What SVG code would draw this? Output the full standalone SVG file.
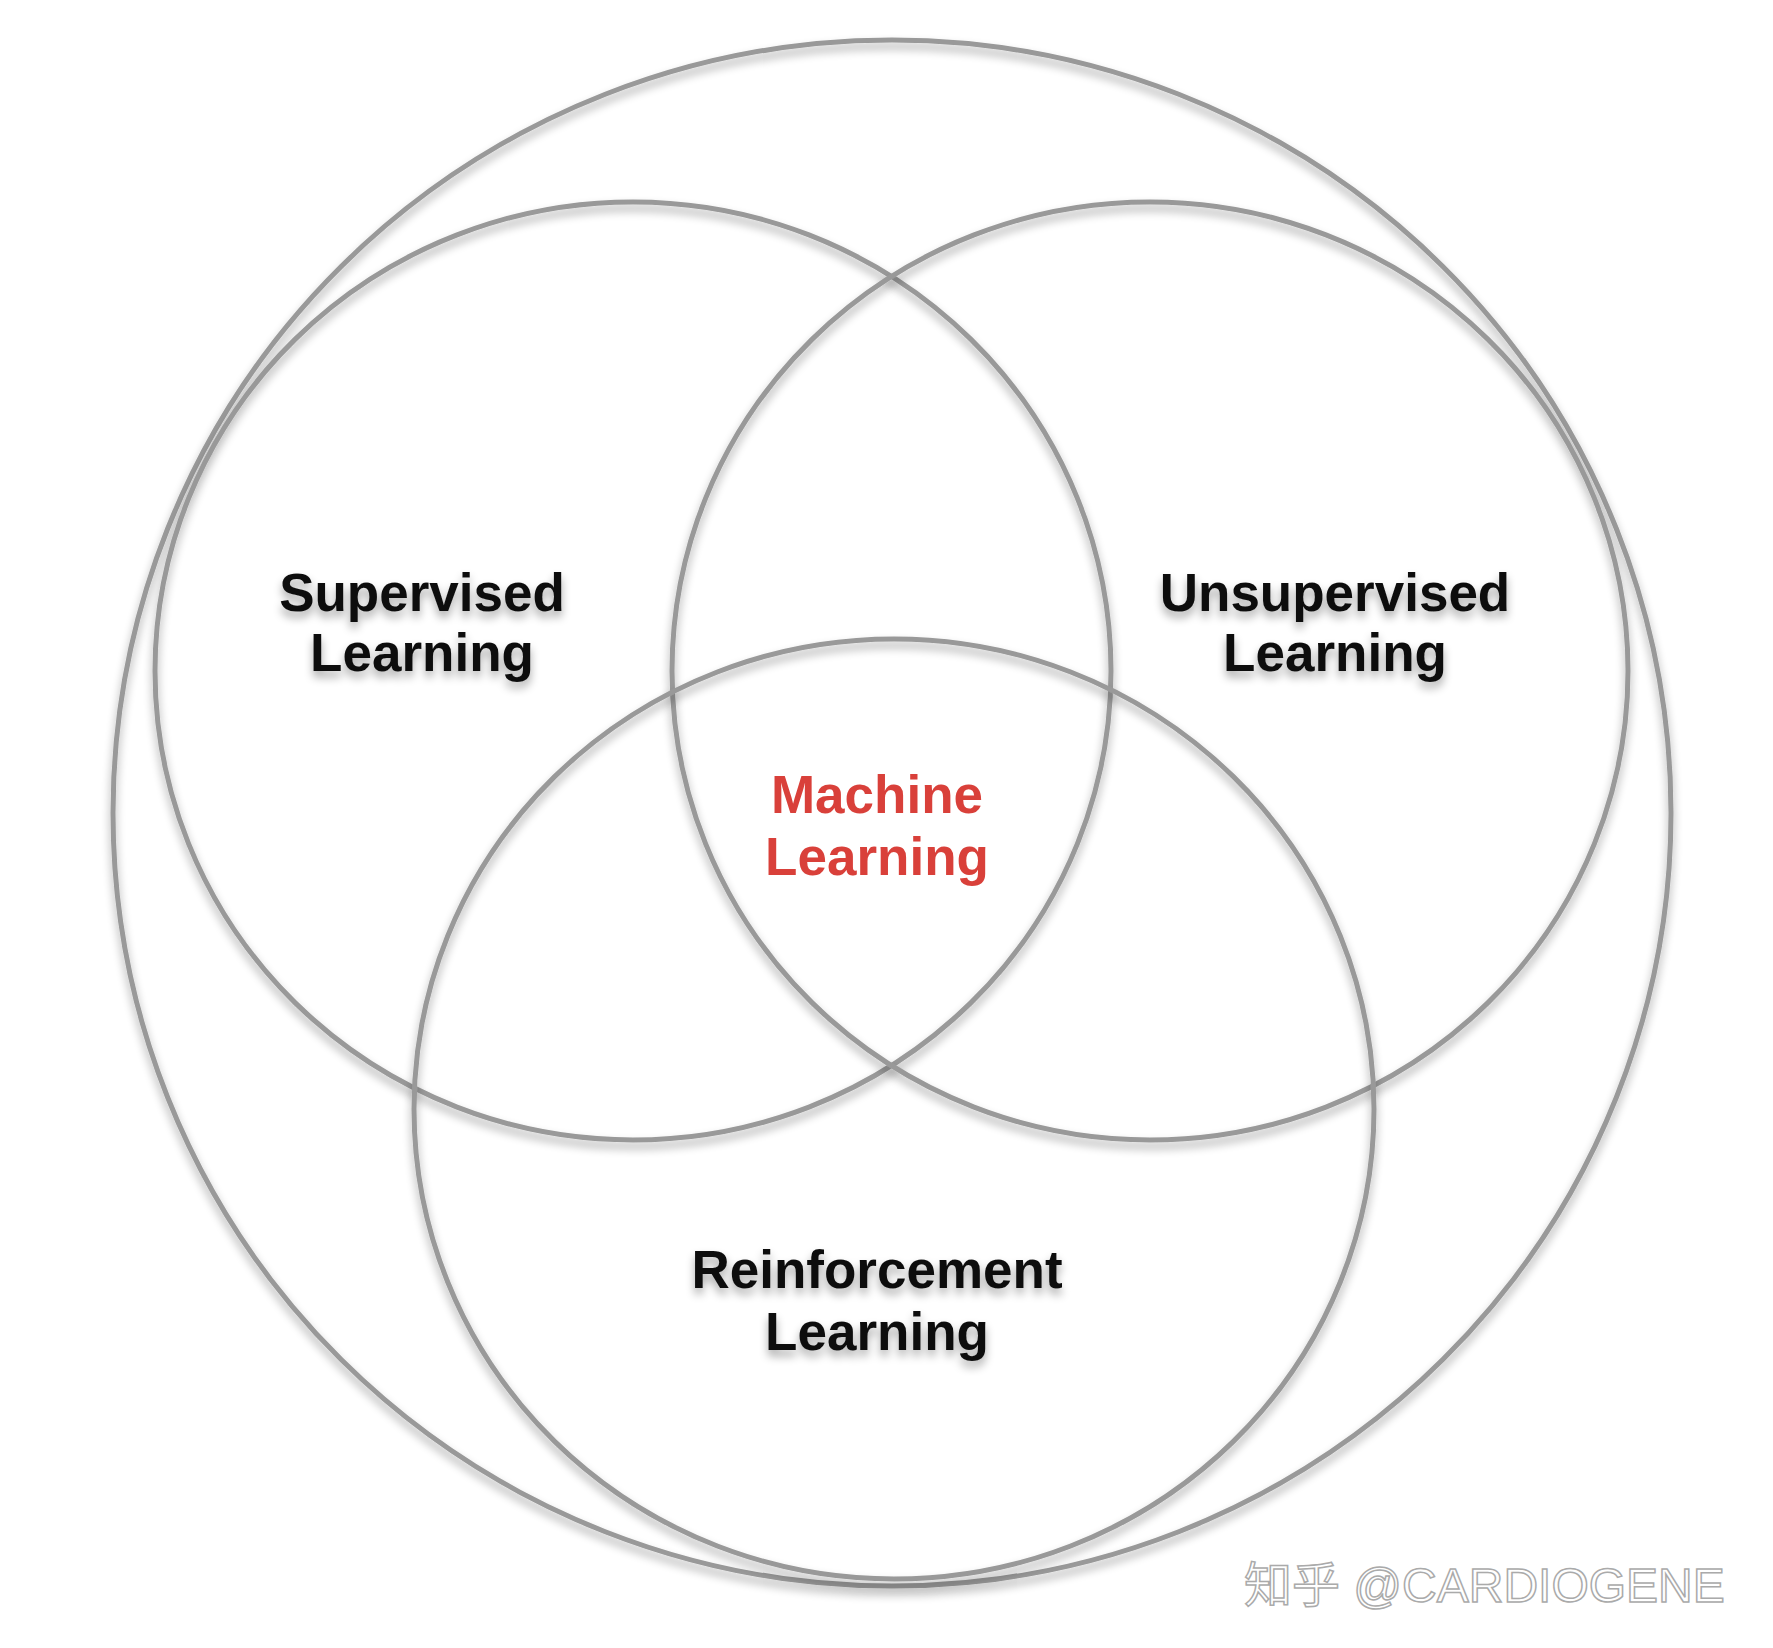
<svg xmlns="http://www.w3.org/2000/svg" width="1773" height="1648" viewBox="0 0 1773 1648">
<style>
.c{fill:none;stroke:#999;stroke-width:5}
.t{font-family:"Liberation Sans",Arial,sans-serif;font-weight:bold;font-size:53px;text-anchor:middle;fill:#111}
.r{fill:#d9403a}
</style>
<defs><filter id="s" x="-10%" y="-10%" width="120%" height="120%"><feGaussianBlur in="SourceAlpha" stdDeviation="5"/><feOffset dy="6"/><feComponentTransfer><feFuncA type="linear" slope="0.35"/></feComponentTransfer><feMerge><feMergeNode/><feMergeNode in="SourceGraphic"/></feMerge></filter></defs>
<rect width="1773" height="1648" fill="#fff"/>
<g id="connectors"></g>
<g id="outer" filter="url(#s)"><ellipse class="c" cx="892" cy="813" rx="779" ry="773"/></g>
<g id="supervised" filter="url(#s)"><ellipse class="c" cx="633" cy="671" rx="478" ry="469"/>
<text class="t" x="422" y="611">Supervised</text><text class="t" x="422" y="671">Learning</text></g>
<g id="unsupervised" filter="url(#s)"><ellipse class="c" cx="1150" cy="671" rx="478" ry="469"/>
<text class="t" x="1335" y="611">Unsupervised</text><text class="t" x="1335" y="671">Learning</text></g>
<g id="reinforcement" filter="url(#s)"><ellipse class="c" cx="894" cy="1109" rx="480" ry="470"/>
<text class="t" x="877" y="1288">Reinforcement</text><text class="t" x="877" y="1350">Learning</text></g>
<g id="ml"><text class="t r" x="877" y="813">Machine</text><text class="t r" x="877" y="875">Learning</text></g>
<text x="1244" y="1602" font-family="'Liberation Sans','Noto Sans CJK SC',sans-serif" font-size="48" fill="#fff" stroke="#aaa" stroke-width="1.5">知乎 @CARDIOGENE</text>
</svg>
